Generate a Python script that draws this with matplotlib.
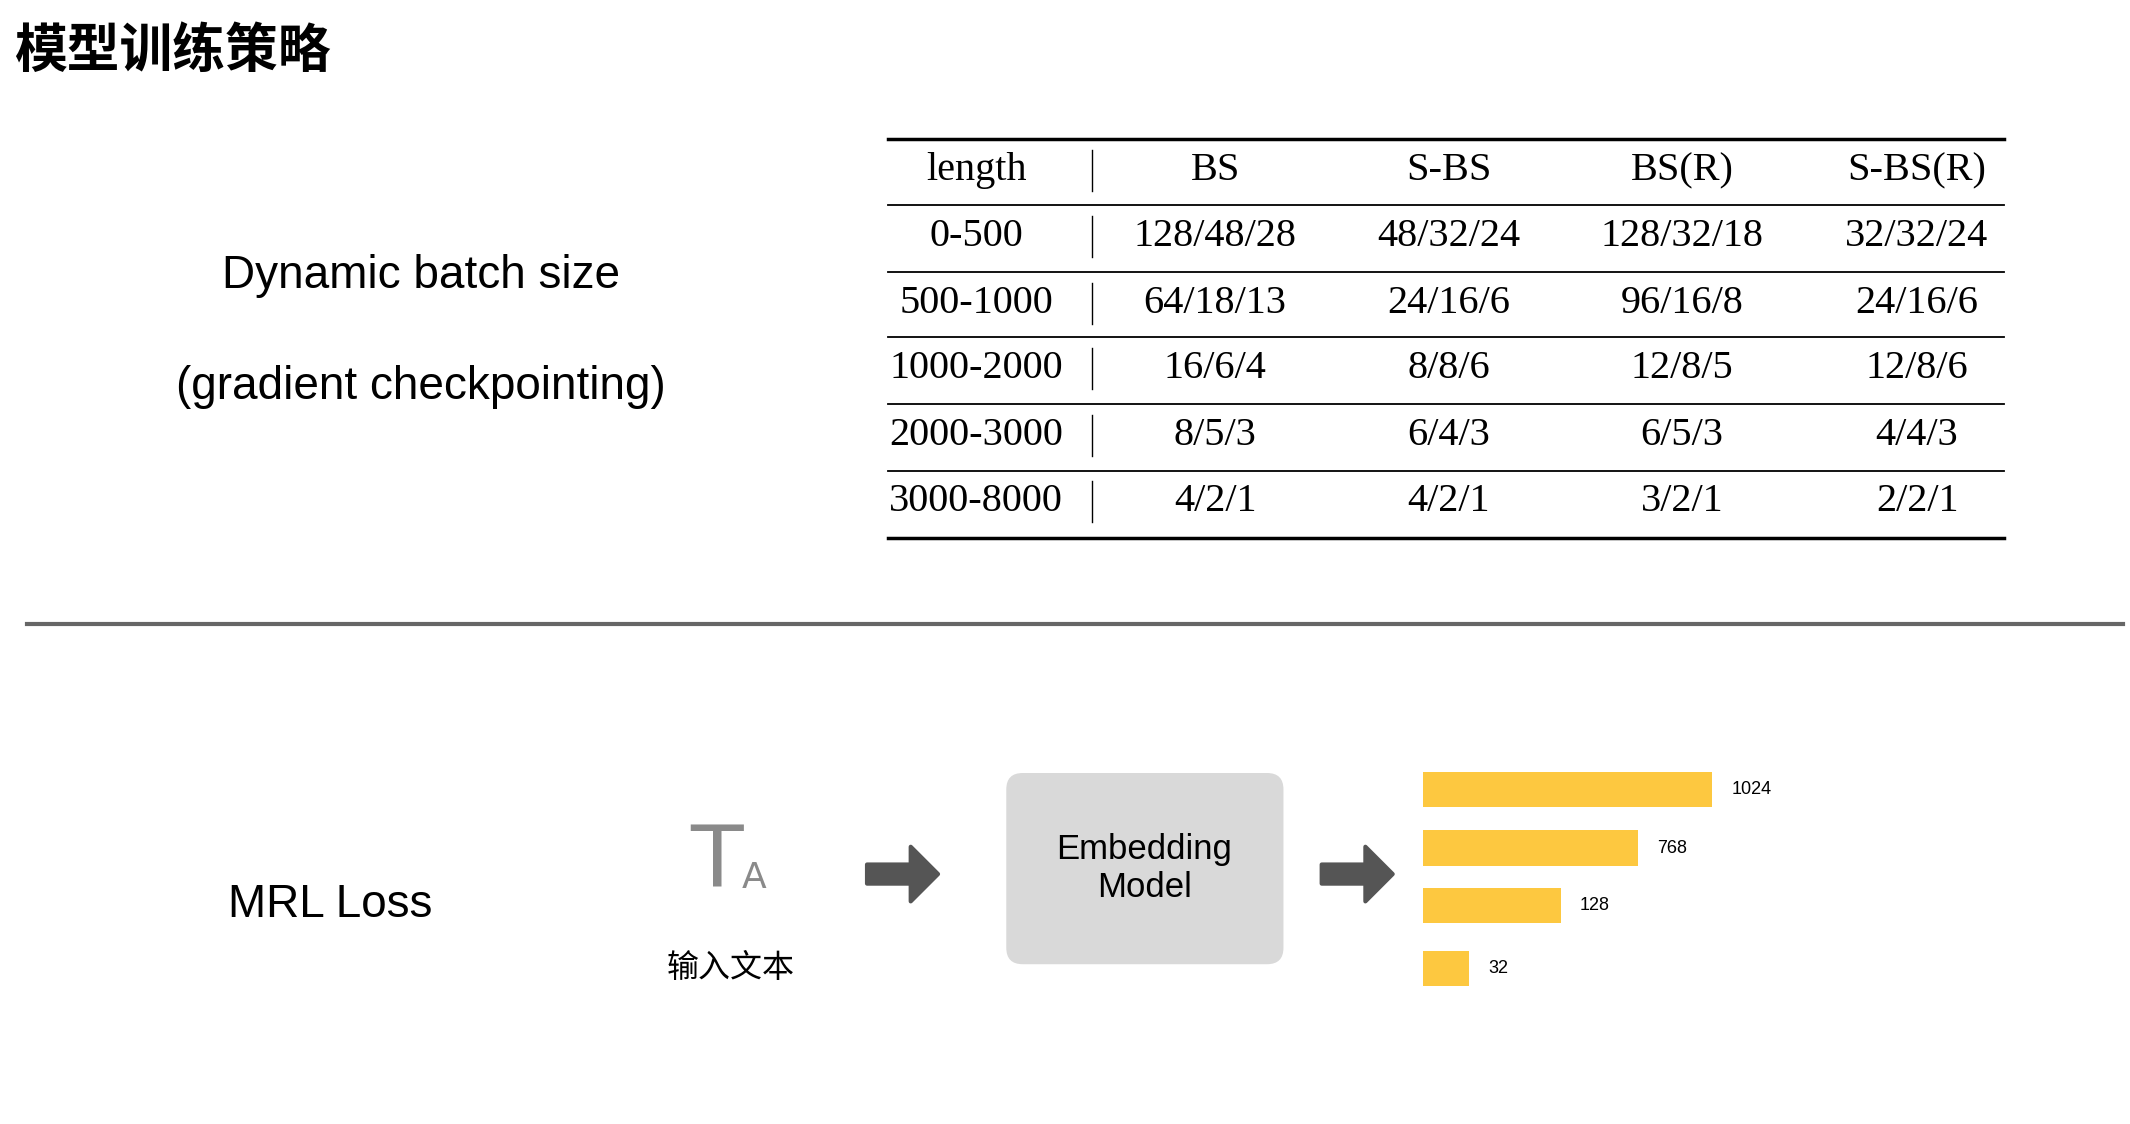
import matplotlib
matplotlib.use("Agg")
import matplotlib.pyplot as plt
from matplotlib.patches import FancyBboxPatch, FancyArrow

plt.rcParams['font.family'] = ['Noto Sans CJK SC', 'DejaVu Sans']

title = "模型训练策略"
col_headers = ["length", "BS", "S-BS", "BS(R)", "S-BS(R)"]
row_labels = ["0-500", "500-1000", "1000-2000", "2000-3000", "3000-8000"]
bs = ["128/48/28", "64/18/13", "16/6/4", "8/5/3", "4/2/1"]
sbs = ["48/32/24", "24/16/6", "8/8/6", "6/4/3", "4/2/1"]
bsr = ["128/32/18", "96/16/8", "12/8/5", "6/5/3", "3/2/1"]
sbsr = ["32/32/24", "24/16/6", "12/8/6", "4/4/3", "2/2/1"]
mrl_dims = ["1024", "768", "128", "32"]
mrl_bar_lengths = [212, 158, 101, 34]  # relative displayed lengths

W, H = 1560, 823
fig = plt.figure(figsize=(21.3, 11.24), dpi=100)
ax = fig.add_axes([0, 0, 1, 1])
ax.set_xlim(0, W); ax.set_ylim(H, 0); ax.axis('off')

ax.text(10, 38, title, fontsize=38, fontweight='bold', va='center', ha='left')
ax.text(308, 202, "Dynamic batch size", fontsize=33, ha='center', va='center', family='Liberation Sans')
ax.text(308, 283, "(gradient checkpointing)", fontsize=33, ha='center', va='center', family='Liberation Sans')

serif = 'Liberation Serif'
col_x = [715, 890, 1061, 1232, 1404]
row_y = [125, 173, 222, 270, 319, 367]
x0, x1 = 650, 1468
ax.plot([x0, x1], [102, 102], color='black', lw=2.5)
ax.plot([x0, x1], [394, 394], color='black', lw=2.5)
for yl in [150, 199, 247, 296, 345]:
    ax.plot([x0, x1], [yl, yl], color='black', lw=1.3)
cols = [row_labels, bs, sbs, bsr, sbsr]
rows = [col_headers] + [[c[i] for c in cols] for i in range(len(row_labels))]
for r, (yy, row) in enumerate(zip(row_y, rows)):
    for xx, t in zip(col_x, row):
        ax.text(xx, yy, t, fontsize=29, ha='center', va='center', family=serif)
    ax.plot([800, 800], [yy - 15, yy + 15], color='black', lw=1)

ax.plot([20, 1555], [457, 457], color='#666666', lw=3)

ax.text(242, 663, "MRL Loss", fontsize=33, ha='center', va='center', family='Liberation Sans')
ax.text(525, 632, "T", fontsize=62, color='#8a8a8a', ha='center', va='center', family='DejaVu Sans')
ax.text(552, 643, "A", fontsize=26, color='#8a8a8a', ha='center', va='center', family='DejaVu Sans')
ax.text(535, 709, "输入文本", fontsize=23, ha='center', va='center')

for xs in [635, 968]:
    ax.add_patch(FancyArrow(xs, 640, 32, 0, width=14, head_width=40, head_length=20,
                            length_includes_head=False, color='#555555', joinstyle='round',
                            capstyle='round', linewidth=3))

ax.add_patch(FancyBboxPatch((737, 566), 203, 140, boxstyle="round,pad=0,rounding_size=12",
                            facecolor='#d9d9d9', edgecolor='none'))
ax.text(838, 636, "Embedding\nModel", fontsize=25, ha='center', va='center',
        family='Liberation Sans', linespacing=1.2)

bar_y = [578, 621, 663, 709]
ax.barh(bar_y, mrl_bar_lengths, left=1042, height=26, color='#FDC840')
for yy, ln, lab in zip(bar_y, mrl_bar_lengths, mrl_dims):
    ax.text(1042 + ln + 14, yy, lab, fontsize=13, ha='left', va='center', family='Liberation Sans')

fig.savefig("out.png", dpi=100)
